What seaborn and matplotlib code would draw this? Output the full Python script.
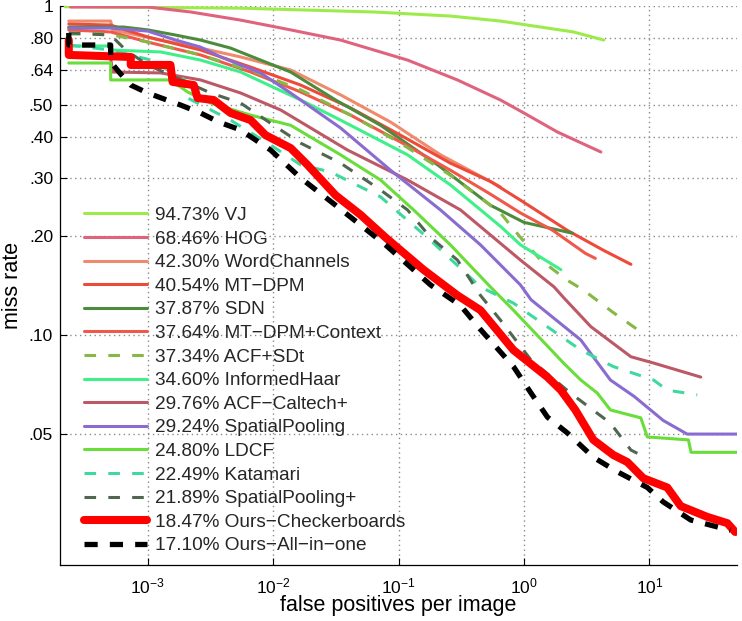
import matplotlib
matplotlib.use("Agg")
import matplotlib.pyplot as plt
import seaborn as sns
from matplotlib.ticker import NullLocator, FixedLocator, FixedFormatter

# ---------------- data (fppi, miss rate) ----------------
vj_fppi = [2.2e-4, 1.06e-3, 5.51e-3, 0.0633, 0.26, 0.65, 1.36, 2.48, 4.33]
vj_miss = [0.995, 0.99, 0.985, 0.959, 0.932, 0.90, 0.863, 0.834, 0.788]

hog_fppi = [2.43e-4, 1e-3, 2.2e-3, 5.51e-3, 0.0138, 0.0345, 0.118, 0.295, 0.65, 1.0, 1.85, 4.11]
hog_miss = [0.993, 0.993, 0.959, 0.906, 0.846, 0.788, 0.685, 0.596, 0.518, 0.473, 0.414, 0.360]

wc_fppi = [2.35e-4, 5.07e-4, 5.26e-4, 1.27e-3, 2.64e-3, 5.51e-3, 0.0138, 0.0345, 0.0863, 0.216, 0.65]
wc_miss = [0.900, 0.900, 0.846, 0.788, 0.745, 0.700, 0.639, 0.537, 0.444, 0.353, 0.282]

mtdpm_fppi = [2.35e-4, 5.07e-4, 1e-3, 2.64e-3, 6.62e-3, 0.0166, 0.0415, 0.1037, 0.259, 0.541, 0.938, 2.22, 4.3, 7.13]
mtdpm_miss = [0.882, 0.875, 0.805, 0.735, 0.652, 0.575, 0.490, 0.405, 0.333, 0.293, 0.257, 0.208, 0.181, 0.164]

sdn_fppi = [2.35e-4, 6.44e-4, 1e-3, 1.67e-3, 2.64e-3, 4.58e-3, 7.94e-3, 0.0138, 0.0315, 0.0719, 0.205, 0.541, 1.0, 2.43]
sdn_miss = [0.863, 0.863, 0.846, 0.816, 0.788, 0.745, 0.685, 0.630, 0.518, 0.434, 0.329, 0.248, 0.220, 0.204]

mtctx_fppi = [2.35e-4, 5.07e-4, 1e-3, 2.64e-3, 6.62e-3, 0.0166, 0.0415, 0.1037, 0.259, 0.541, 0.938, 1.7, 3.1, 3.71]
mtctx_miss = [0.846, 0.834, 0.777, 0.710, 0.630, 0.548, 0.466, 0.386, 0.317, 0.268, 0.235, 0.208, 0.177, 0.171]

acfsdt_fppi = [2.35e-4, 4.8e-4, 1e-3, 2.64e-3, 7.52e-3, 0.0166, 0.0415, 0.1037, 0.259, 0.65, 0.938, 1.36, 2.2, 2.98, 5.16, 9.29]
acfsdt_miss = [0.822, 0.822, 0.777, 0.710, 0.626, 0.556, 0.466, 0.383, 0.306, 0.235, 0.198, 0.169, 0.147, 0.137, 0.117, 0.100]

ih_fppi = [2.35e-4, 4.8e-4, 5.07e-4, 1.27e-3, 2.64e-3, 5.51e-3, 0.0166, 0.0345, 0.118, 0.259, 0.65, 0.938, 1.97]
ih_miss = [0.756, 0.756, 0.735, 0.725, 0.685, 0.630, 0.518, 0.450, 0.353, 0.286, 0.214, 0.188, 0.158]

acfc_fppi = [2.35e-4, 5.07e-4, 5.26e-4, 1.27e-3, 2.64e-3, 5.51e-3, 0.0115, 0.0392, 0.118, 0.312, 0.938, 1.74, 2.07, 3.42, 7.13, 10.8, 25.7]
acfc_miss = [0.705, 0.695, 0.630, 0.626, 0.596, 0.544, 0.483, 0.365, 0.296, 0.240, 0.169, 0.140, 0.130, 0.106, 0.0859, 0.0822, 0.0745]

sp_fppi = [2.35e-4, 5.07e-4, 1e-3, 1.67e-3, 2.64e-3, 3.82e-3, 5.51e-3, 7.94e-3, 0.0138, 0.0345, 0.0863, 0.216, 0.450, 0.938, 1.14,
           2.84, 4.89, 7.6, 12.9, 20.0, 50.0]
sp_miss = [0.857, 0.857, 0.839, 0.788, 0.750, 0.700, 0.662, 0.626, 0.544, 0.426, 0.317, 0.240, 0.188, 0.142, 0.128,
           0.0966, 0.0730, 0.0650, 0.0550, 0.0500, 0.0500]

ldcf_fppi = [2.35e-4, 5.07e-4, 5.07e-4, 1.52e-3, 2.08e-3, 3.18e-3, 6.62e-3, 0.0138, 0.0345, 0.0719, 0.132, 0.259, 0.541, 0.825, 2.07,
             2.84, 3.85, 4.89, 8.55, 9.64, 20.5, 21.5, 50.0]
ldcf_miss = [0.671, 0.671, 0.596, 0.596, 0.548, 0.507, 0.466, 0.434, 0.353, 0.296, 0.240, 0.188, 0.140, 0.119, 0.0822,
             0.0730, 0.0666, 0.0592, 0.0560, 0.0490, 0.0480, 0.0440, 0.0440]

kat_fppi = [2.35e-4, 5.07e-4, 1.06e-3, 1.97e-3, 2.01e-3, 4.58e-3, 9.55e-3, 0.0166, 0.0287, 0.0719, 0.180, 0.450, 0.825, 2.84, 5.16, 10.8, 13.9, 24.1]
kat_miss = [0.761, 0.735, 0.685, 0.596, 0.529, 0.450, 0.378, 0.329, 0.313, 0.263, 0.194, 0.140, 0.125, 0.0900, 0.0802, 0.0730, 0.0680, 0.0658]

spp_fppi = [2.35e-4, 5.07e-4, 6.68e-4, 1e-3, 1.52e-3, 3.18e-3, 5.51e-3, 0.0101, 0.0166, 0.0345, 0.0719, 0.118, 0.180, 0.295, 0.450, 0.650,
            1.14, 2.35, 4.89, 7.13, 9.64]
spp_miss = [0.828, 0.816, 0.735, 0.662, 0.617, 0.544, 0.507, 0.434, 0.383, 0.333, 0.276, 0.240, 0.198, 0.169, 0.132, 0.111,
            0.0839, 0.0666, 0.0540, 0.0447, 0.0422]

ours_fppi = [2.35e-4, 2.35e-4, 7.33e-4, 7.33e-4, 1.52e-3, 1.58e-3, 2.33e-3, 2.50e-3, 3.36e-3, 4.58e-3, 6.62e-3, 8.71e-3, 0.0138,
             0.0188, 0.0315, 0.0498, 0.0787, 0.158, 0.295, 0.450, 0.825, 1.54, 1.97, 2.57, 3.58, 5.16, 6.68, 8.96, 13.9,
             17.8, 29.0, 41.9, 48.4]
ours_miss = [0.788, 0.710, 0.700, 0.662, 0.662, 0.588, 0.575, 0.525, 0.518, 0.473, 0.450, 0.405, 0.370,
             0.329, 0.266, 0.232, 0.198, 0.158, 0.132, 0.119, 0.0900, 0.0745, 0.0680, 0.0592, 0.0480, 0.0432, 0.0411, 0.0367, 0.0344,
             0.0302, 0.0280, 0.0268, 0.0252]

all_fppi = [2.35e-4, 2.35e-4, 5.07e-4, 5.07e-4, 6.10e-4, 7.33e-4, 1e-3, 1.83e-3, 2.64e-3, 3.68e-3, 5.51e-3, 9.55e-3, 0.0166,
            0.0315, 0.0787, 0.180, 0.312, 0.450, 0.825, 1.14, 1.54, 2.22, 3.58, 5.56, 9.64, 12.9, 21.4, 44.2]
all_miss = [0.828, 0.761, 0.761, 0.676, 0.621, 0.575, 0.544, 0.500, 0.473, 0.444, 0.420, 0.365, 0.300,
            0.248, 0.188, 0.142, 0.123, 0.104, 0.0802, 0.0666, 0.0563, 0.0504, 0.0425, 0.0384, 0.0344, 0.0311, 0.0274, 0.0255]

labels = ["94.73% VJ", "68.46% HOG", "42.30% WordChannels", "40.54% MT\u2212DPM", "37.87% SDN",
          "37.64% MT\u2212DPM+Context", "37.34% ACF+SDt", "34.60% InformedHaar", "29.76% ACF\u2212Caltech+",
          "29.24% SpatialPooling", "24.80% LDCF", "22.49% Katamari", "21.89% SpatialPooling+",
          "18.47% Ours\u2212Checkerboards", "17.10% Ours\u2212All\u2212in\u2212one"]
series = [(vj_fppi, vj_miss), (hog_fppi, hog_miss), (wc_fppi, wc_miss), (mtdpm_fppi, mtdpm_miss),
          (sdn_fppi, sdn_miss), (mtctx_fppi, mtctx_miss), (acfsdt_fppi, acfsdt_miss), (ih_fppi, ih_miss),
          (acfc_fppi, acfc_miss), (sp_fppi, sp_miss), (ldcf_fppi, ldcf_miss), (kat_fppi, kat_miss),
          (spp_fppi, spp_miss), (ours_fppi, ours_miss), (all_fppi, all_miss)]
y_ticks = [0.05, 0.10, 0.20, 0.30, 0.40, 0.50, 0.64, 0.80, 1.0]
y_ticklabels = [".05", ".10", ".20", ".30", ".40", ".50", ".64", ".80", "1"]
x_ticks = [1e-3, 1e-2, 1e-1, 1, 10]
x_ticklabels = ["$10^{-3}$", "$10^{-2}$", "$10^{-1}$", "$10^{0}$", "$10^{1}$"]

# ---------------- styles ----------------
colors = ["#9DEB4B", "#E0637D", "#EE8B6C", "#EE4A3A", "#4B8B3B", "#F0584A", "#86B845", "#3FF08A",
          "#BD5866", "#8A6CD0", "#6ADD3A", "#3FD9A0", "#506650", "#FF0000", "#000000"]
dash_reg = (0, (3.8, 4.0))
dash_blk = (0, (2.5, 2.3))
styles = ["-"] * 6 + [dash_reg] + ["-"] * 4 + [dash_reg, dash_reg, "-", dash_blk]
widths = [2.2] * 13 + [5.8, 3.8]

sns.set_theme(style="white")
plt.rcParams['font.family'] = ['Liberation Sans', 'DejaVu Sans']
plt.rcParams['mathtext.fontset'] = 'custom'
plt.rcParams['mathtext.rm'] = 'Liberation Sans'
plt.rcParams['mathtext.it'] = 'Liberation Sans:italic'
plt.rcParams['mathtext.bf'] = 'Liberation Sans:bold'
plt.rcParams['axes.grid'] = True
plt.rcParams['grid.color'] = '#888888'
plt.rcParams['grid.linestyle'] = ':'
plt.rcParams['grid.linewidth'] = 1.0
plt.rcParams['xtick.bottom'] = True
plt.rcParams['ytick.left'] = True

fig = plt.figure(figsize=(7.42, 6.21), dpi=100)
ax = fig.add_axes([60 / 742, 56 / 621, 677 / 742, 559 / 621])

for (xs, ys), lab, c, ls, lw in zip(series, labels, colors, styles, widths):
    sns.lineplot(x=xs, y=ys, ax=ax, sort=False, estimator=None, color=c,
                 linestyle=ls, linewidth=lw, label=lab)

ax.set_xscale("log")
ax.set_yscale("log")
ax.set_xlim(2e-4, 50)
ax.set_ylim(0.02, 1)
ax.xaxis.set_major_locator(FixedLocator(x_ticks))
ax.xaxis.set_major_formatter(FixedFormatter(x_ticklabels))
ax.yaxis.set_major_locator(FixedLocator(y_ticks))
ax.yaxis.set_major_formatter(FixedFormatter(y_ticklabels))
ax.xaxis.set_minor_locator(NullLocator())
ax.yaxis.set_minor_locator(NullLocator())
ax.tick_params(axis="both", which="major", direction="in", length=5, width=0.8, colors="black",
               labelsize=12.5, bottom=True, left=True, top=False, right=False)
ax.tick_params(axis="y", pad=5)
ax.tick_params(axis="x", pad=8)

ax.grid(True, which="major", axis="both", linestyle=(0, (1, 2.5)), color="#8a8a8a", linewidth=1.0)
ax.set_axisbelow(True)
for s in ["top", "right"]:
    ax.spines[s].set_visible(False)
for s in ["left", "bottom"]:
    ax.spines[s].set_color("black")
    ax.spines[s].set_linewidth(0.9)

ax.set_xlabel("false positives per image", fontsize=15.5, color="black", labelpad=-1)
ax.set_ylabel("miss rate", fontsize=15.5, color="black", labelpad=4)

ax.legend(loc="lower left", bbox_to_anchor=(0.035, 0.019), frameon=False, fontsize=13.7,
          handlelength=3.35, handletextpad=0.4, labelspacing=0.33, borderaxespad=0, borderpad=0)

fig.savefig("out.png", dpi=100, facecolor="white")
